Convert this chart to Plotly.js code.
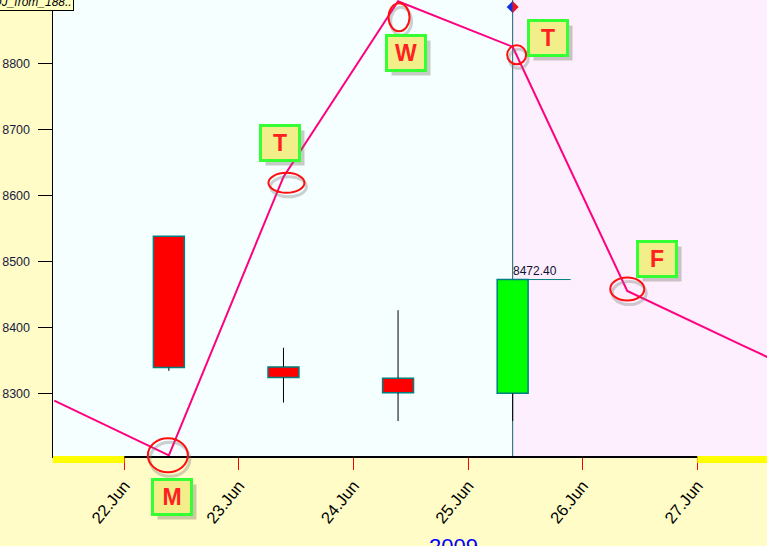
<!DOCTYPE html>
<html>
<head>
<meta charset="utf-8">
<script src="https://cdn.plot.ly/plotly-3.0.1.min.js"></script>
<style>html,body{margin:0;padding:0;background:#FFFCC8;}#chart{width:767px;height:546px;}</style>
</head>
<body>
<div id="chart"></div>
<script>
// ---- data ----
const lineDates = ['2009-06-21 09:20','2009-06-22 09:20','2009-06-23 09:20','2009-06-24 09:20','2009-06-25 09:20','2009-06-26 09:20','2009-06-27 09:20','2009-06-28 09:20'];
const lineValues = [8289, 8206, 8628, 8894, 8825, 8455, 8373, 8292];

const candleDates = ['2009-06-22 09:20','2009-06-23 09:20','2009-06-24 09:20','2009-06-25 09:20'];
const openValues  = [8538, 8340, 8323, 8300];
const highValues  = [8538, 8369, 8426, 8472.4];
const lowValues   = [8334, 8286, 8258, 8258];
const closeValues = [8339, 8324, 8301, 8472.4];

const patternLetters = ['M','T','W','T','F'];
const patternIndex   = [1, 2, 3, 4, 5];   // index into lineDates / lineValues

const xTickDates = ['2009-06-22','2009-06-23','2009-06-24','2009-06-25','2009-06-26','2009-06-27'];
const xTickText  = ['22.Jun','23.Jun','24.Jun','25.Jun','26.Jun','27.Jun'];
const yTickValues = [8300, 8400, 8500, 8600, 8700, 8800];
const yearLabel = '2009';
const seriesName = 'J_from_188..';

// ---- layout helpers (positions / styles) ----
const xRange = ['2009-06-21 09:04', '2009-06-27 14:36'];
const yRange = [8205, 8896];
// label box offsets (px, dx right, dy down) relative to each pattern point
const labelOffsets = [[3, 42], [-3, -34], [8, 52], [35, -9], [30, -32]];
// ellipse [dx, dy(down), w, h] relative to each pattern point
const ellipseGeom = [[-1, 0, 40, 34], [3, 6, 36, 20], [1, 16, 21, 28], [4, 8, 19, 19], [0, -2, 34, 23]];

const cursorDate = candleDates[candleDates.length - 1];
const lastClose = closeValues[closeValues.length - 1];

const traces = [];
// bodies
traces.push({
  type: 'bar', x: candleDates,
  base: openValues.map((o, i) => Math.min(o, closeValues[i])),
  y: openValues.map((o, i) => Math.abs(closeValues[i] - o)),
  width: candleDates.map(() => 0.27 * 86400000),
  marker: {color: openValues.map((o, i) => closeValues[i] >= o ? '#00FF00' : '#FF0000'),
           line: {color: '#008080', width: 1.5}},
  hoverinfo: 'skip', showlegend: false
});
// wicks (outside of bodies)
const wickX = [], wickY = [];
candleDates.forEach((d, i) => {
  const bodyLo = Math.min(openValues[i], closeValues[i]);
  const bodyHi = Math.max(openValues[i], closeValues[i]);
  if (lowValues[i] < bodyLo) { wickX.push(d, d, null); wickY.push(lowValues[i], bodyLo, null); }
  if (highValues[i] > bodyHi) { wickX.push(d, d, null); wickY.push(bodyHi, highValues[i], null); }
});
traces.push({
  type: 'scatter', mode: 'lines', x: wickX, y: wickY, connectgaps: false,
  line: {color: '#000000', width: 1}, hoverinfo: 'skip', showlegend: false
});
// zigzag line
traces.push({
  type: 'scatter', mode: 'lines', x: lineDates, y: lineValues,
  line: {color: '#FF0080', width: 2}, hoverinfo: 'skip', showlegend: false
});

const shapes = [];
// right (future) background
shapes.push({type: 'rect', xref: 'x', yref: 'paper', x0: cursorDate, x1: xRange[1], y0: 0, y1: 1,
  fillcolor: '#FDEFFD', line: {width: 0}, layer: 'below'});
// cursor line (behind candles)
shapes.push({type: 'line', xref: 'x', yref: 'paper', x0: cursorDate, x1: cursorDate, y0: 0, y1: 1,
  line: {color: '#17606F', width: 1}, layer: 'below'});
// weekend strips
shapes.push({type: 'rect', xref: 'x', yref: 'paper', x0: xRange[0], x1: xTickDates[0],
  ysizemode: 'pixel', yanchor: 0, y0: -7, y1: 0, fillcolor: '#FFFF00', line: {width: 0}});
shapes.push({type: 'rect', xref: 'x', yref: 'paper', x0: xTickDates[xTickDates.length - 1], x1: xRange[1],
  ysizemode: 'pixel', yanchor: 0, y0: -7, y1: 0, fillcolor: '#FFFF00', line: {width: 0}});
// close marker line
shapes.push({type: 'line', xref: 'x', yref: 'y', xsizemode: 'pixel', xanchor: cursorDate, x0: 0, x1: 58,
  y0: lastClose, y1: lastClose, line: {color: '#008080', width: 1}});
// diamond at top of cursor
shapes.push({type: 'path', xref: 'x', yref: 'paper', xsizemode: 'pixel', ysizemode: 'pixel', xanchor: cursorDate, yanchor: 1,
  path: 'M0,-1 L-6,-7 L0,-13 Z', fillcolor: '#1030E0', line: {width: 0}});
shapes.push({type: 'path', xref: 'x', yref: 'paper', xsizemode: 'pixel', ysizemode: 'pixel', xanchor: cursorDate, yanchor: 1,
  path: 'M0,-1 L6,-7 L0,-13 Z', fillcolor: '#F01020', line: {width: 0}});

// ellipses around pattern points
patternIndex.forEach((idx, k) => {
  const [dx, dy, w, h] = ellipseGeom[k];
  const frac = (lineValues[idx] - yRange[0]) / (yRange[1] - yRange[0]);
  const base = {type: 'circle', xref: 'x', yref: 'paper', xsizemode: 'pixel', ysizemode: 'pixel',
    xanchor: lineDates[idx], yanchor: frac};
  shapes.push(Object.assign({}, base, {x0: dx - w / 2 + 2, x1: dx + w / 2 + 2, y0: -dy - h / 2 - 4, y1: -dy + h / 2 - 4,
    line: {color: 'rgba(120,120,120,0.35)', width: 3}}));
  shapes.push(Object.assign({}, base, {x0: dx - w / 2, x1: dx + w / 2, y0: -dy - h / 2, y1: -dy + h / 2,
    line: {color: '#FF1010', width: 2}}));
});

const annotations = [];
patternIndex.forEach((idx, k) => {
  const [dx, dy] = labelOffsets[k];
  const common = {xref: 'x', yref: 'y', x: lineDates[idx], y: lineValues[idx], showarrow: false,
    width: 34, height: 30, borderpad: 1, align: 'center', valign: 'middle'};
  annotations.push(Object.assign({}, common, {text: ' ', xshift: dx + 5, yshift: -dy - 5,
    bgcolor: 'rgba(110,110,90,0.35)', borderwidth: 3, bordercolor: 'rgba(0,0,0,0)'}));
  annotations.push(Object.assign({}, common, {text: '<b>' + patternLetters[k] + '</b>', xshift: dx, yshift: -dy,
    bgcolor: '#F2EE8A', bordercolor: '#33FF33', borderwidth: 3,
    font: {family: 'Liberation Sans, Arial, sans-serif', size: 23, color: '#FF2020'}}));
});
// close value label
annotations.push({xref: 'x', yref: 'y', x: cursorDate, y: lastClose, xanchor: 'left', yanchor: 'bottom',
  text: lastClose.toFixed(2), showarrow: false, xshift: -1, yshift: 1, borderpad: 0,
  font: {family: 'Liberation Sans, Arial, sans-serif', size: 12, color: '#111133'}});
// year label
annotations.push({xref: 'paper', yref: 'paper', x: 0.5616, y: 0, yanchor: 'top', yshift: -76,
  text: yearLabel, showarrow: false,
  font: {family: 'Liberation Sans, Arial, sans-serif', size: 22, color: '#0000FF'}});
// series name box (top-left)
annotations.push({xref: 'paper', yref: 'paper', x: 0, y: 1, xanchor: 'left', yanchor: 'bottom',
  xshift: -62, yshift: -11, text: '<i>D' + seriesName + '</i>', showarrow: false,
  bgcolor: '#FFFFC0', bordercolor: '#000000', borderwidth: 1, borderpad: 1,
  font: {family: 'Liberation Sans, Arial, sans-serif', size: 12, color: '#000000'}});

const layout = {
  width: 767, height: 546,
  margin: {l: 53, r: 0, t: 0, b: 90},
  paper_bgcolor: '#FFFCC8', plot_bgcolor: '#F5FFFF',
  showlegend: false, bargap: 0,
  xaxis: {type: 'date', range: xRange,
    tickmode: 'array', tickvals: xTickDates, ticktext: xTickText, tickangle: -51,
    ticks: 'outside', ticklen: 12, tickcolor: '#FF0000', tickwidth: 1,
    showline: true, linecolor: '#000000', linewidth: 1.5, showgrid: false, zeroline: false,
    tickfont: {family: 'Liberation Sans, Arial, sans-serif', size: 16.5, color: '#000000'}},
  yaxis: {range: yRange, tickmode: 'array', tickvals: yTickValues,
    ticks: 'outside', ticklen: 14, tickcolor: '#000000', tickwidth: 1, ticklabelstandoff: 5,
    showline: true, linecolor: '#000000', linewidth: 1.5, showgrid: false, zeroline: false,
    tickfont: {family: 'Liberation Sans, Arial, sans-serif', size: 12.5, color: '#1A1A40'}},
  shapes: shapes, annotations: annotations
};

Plotly.newPlot('chart', traces, layout, {displayModeBar: false, staticPlot: true});
</script>
</body>
</html>
